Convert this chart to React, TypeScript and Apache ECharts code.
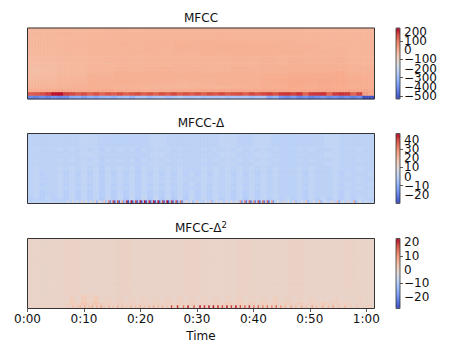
import React, { useEffect, useRef } from "react";
import * as echarts from "echarts";

const FONT = "DejaVu Sans";
const coolwarm = ["#3b4cc0", "#5977e3", "#7b9ff9", "#9ebeff", "#c0d4f5", "#dddcdc", "#f2cbb7", "#f7ac8e", "#ee8468", "#d65244", "#b40426"];

const timeTicks = [0, 10, 20, 30, 40, 50, 60];
const timeMax = 61.45;
const titles = ["MFCC", "MFCC-Δ", "MFCC-Δ{sup|2}"];

const mfccRange = [-533, 244];
const deltaRange = [-29.5, 47];
const delta2Range = [-28.5, 22.7];
const mfccTicks = [200, 100, 0, -100, -200, -300, -400, -500];
const deltaTicks = [40, 30, 20, 10, 0, -10, -20];
const delta2Ticks = [20, 10, 0, -10, -20];

// MFCC, coefficient 0 upward
const mfcc0 = [-430, -440, -410, -430, -400, -420, -410, -350, -340, -370, -330, -350, -320, -310, -330, -300, -290, -320, -280, -270, -300, -270, -260, -290, -270, -250, -280, -270, -260, -290, -270, -280, -260, -290, -270, -280, -270, -290, -280, -270, -350, -320, -390, -410, -380, -420, -400, -430, -410, -390, -420, -400, -430, -410, -440, -410, -525, -528];
const mfcc1 = [150, 160, 170, 190, 230, 235, 185, 175, 155, 170, 140, 165, 135, 160, 145, 170, 140, 155, 170, 145, 165, 140, 170, 150, 175, 145, 165, 150, 170, 145, 170, 155, 175, 150, 165, 170, 145, 175, 160, 175, 185, 165, 190, 195, 180, 200, 140, 190, 195, 200, 135, 190, 200, 195, 140, 185, 40, 20];
const mfcc2 = [10, 13, 15, 8, 12, 14, 6, 3, 0, 4, 8, 10, 12, 15, 16, 14, 18, 16, 14, 18, 20, 18, 22, 20];
const mfcc3 = [-12, -8, -4, 0, 4, 2, -4, -6, -10, -12, -14, -10, -8, -10, -6, -4, 4, 6, 10, 8, 12, 10, 6, 4];
const mfcc4 = [-16, -14, -8, -6, 4, 2, 4, 0, -4, -6, -8, -10, -6, -2, 0, -2, 6, 4, 14, 12, 16, 14, 8, 6];
const mfcc5 = [-22, -18, -12, -8, 0, 2, 4, 2, 0, -2, -4, -2, -4, -2, 0, 2, 8, 10, 14, 14, 16, 14, 10, 6];
const mfcc6 = [-26, -22, -16, -14, -2, -4, 0, 2, 2, 4, 0, 2, -2, 0, 0, 2, 4, 6, 10, 12, 12, 14, 8, 6];
const mfcc7 = [-28, -24, -20, -18, -10, -8, -2, -4, -2, 0, -4, -2, -6, -4, -2, -4, 0, 2, 4, 6, 8, 10, 2, 0];
const mfcc8 = [-28, -26, -20, -18, -12, -10, -6, -8, -4, -2, -6, -4, -6, -8, -2, -4, -2, 0, 2, 4, 4, 6, 0, -2];
const mfcc9 = [-26, -24, -18, -20, -12, -14, -10, -8, -8, -10, -6, -8, -10, -8, -6, -8, -4, -6, 0, -2, 2, 0, -4, -6];
const mfcc10 = [-24, -22, -20, -18, -14, -16, -12, -10, -8, -10, -12, -10, -8, -10, -6, -8, -4, -6, -2, -4, -4, -2, -6, -8];
const mfcc11 = [-22, -20, -16, -18, -14, -12, -12, -14, -10, -12, -8, -10, -8, -6, -4, -6, -4, -8, -4, -6, -4, -2, -8, -10];
const mfcc12 = [-20, -18, -16, -14, -12, -14, -10, -12, -8, -10, -6, -8, -4, -6, -2, -4, -4, -6, -4, -6, -6, -4, -8, -10];
const mfcc13 = [-18, -16, -14, -16, -10, -12, -8, -6, -6, -8, -4, -6, 0, -2, 2, 0, 0, -2, -2, -4, -4, -6, -8, -6];
const mfcc14 = [-18, -16, -12, -14, -10, -8, -8, -10, -4, -6, -2, -4, 2, 0, 2, 0, 0, -2, -4, -2, -6, -4, -8, -6];
const mfcc15 = [-16, -14, -14, -12, -10, -12, -6, -8, -6, -8, -2, -4, -2, 0, 0, -2, -2, -4, -4, -6, -6, -8, -8, -6];
const mfcc16 = [-16, -14, -14, -12, -12, -10, -8, -10, -6, -8, -6, -4, -4, -6, -4, -6, -6, -4, -6, -8, -8, -6, -8, -10];
const mfcc17 = [-16, -14, -14, -16, -10, -12, -10, -8, -8, -10, -8, -10, -8, -6, -8, -10, -8, -10, -8, -10, -10, -12, -10, -12];
const mfcc18 = [-14, -16, -12, -14, -12, -14, -10, -12, -10, -12, -8, -10, -8, -10, -10, -12, -10, -12, -10, -12, -12, -10, -12, -10];
const mfcc19 = [-14, -14, -12, -14, -12, -12, -12, -14, -12, -10, -10, -12, -10, -12, -10, -12, -12, -10, -10, -12, -12, -10, -12, -10];
const mfccRows = [mfcc0, mfcc1, mfcc2, mfcc3, mfcc4, mfcc5, mfcc6, mfcc7, mfcc8, mfcc9, mfcc10, mfcc11, mfcc12, mfcc13, mfcc14, mfcc15, mfcc16, mfcc17, mfcc18, mfcc19];

// Delta, 232 slices
const delta0 = [
  0, 0, 0, 1, 0, 0, 1, 0, 0, 0, 1, 0, 0, 0, 1, 0, 0, 1, 0, 0, 0, 1, 0, 0, 1, 0, 0,
  9, 0, 0, 11, 0, 0, 8, 0, 0, 14, 0, 0, 10, 0, 0, 12, 0, 0, 15, -8, 0, 13, 0, 0, 18,
  -6, 0, 30, -20, 0, 40, -26, 0, 38, -24, 0, 26, -14, 0, 42, -28, 0, 44, -27, 0, 40, -26, 0, 44, -28, 0, 46, -28, 0, 42, -27, 0, 45, -28, 0, 44, -26, 0, 40, -27, 0, 46, -28, 0, 42, -24, 0, 38, -22, 0, 34, -20,
  0, 0, 14, 0, 0, 10, -6, 0, 0, 18, 0, 0, 12, 0, 0, 0, 9, 0, 0, 16, -8, 0, 0, 11, 0, 0, 8, 0, 0, 0, 14, 0, 0, 10, 0, 0, 12, 0,
  0, 28, -16, 0, 32, -20, 0, 36, -24, 0, 30, -18, 0, 38, -24, 0, 34, -20, 0, 36, -22, 0, 26, -14, 0,
  0, 10, 0, 0, 0, 14, 0, 0, 8, 0, 0, 0, 16, -6, 0, 0, 0, 9, 0, 0, 18, -8, 0, 0, 0, 11, 0, 0, 0, 20, -8, 0, 0, 8, 0, 0, 0, 14, 0, 0, 0, 22, -10, 0, 0, 9, 0, 0, 16, 0, 0, 0, 24, -10, 0, 0, 10, 0, 0, 0, 6, 0, 0, 0, 3, 0, 0,
];
const delta1 = [-1, 0, -1, 1, -1, 0, -1, 1, -1, 1, -1, 1, -2, 2, -1, 2, -2, 2, -2, 3, -2, 3, -2, 2, -2, 2, -2, 2, -1, 2, -1, 2, -1, 1, -1, 2, -2, 2, -1, 2, -1, 1, -1, 1, -1, 1, -1, 2, -1, 1, -1, 1, -1, 1, -1, 1, 0, 0];
const deltaLow = [0, 1, -1, 0, 0, 1, -1, 1, -1, 1, -1, 1, -1, 1, -1, 1, -1, 1, -1, 1, -1, 1, -1, 1, -1, 1, -1, 1, -1, 1, -1, 1, 0, 1, -1, 1, -1, 1, -1, 1, 0, 1, 0, 0, 0, 1, -1, 1, 0, 0, 0, 1, -1, 1, 0, 0, 0, 1];
const deltaMid = [0, 1, 0, 0, 0, 1, 0, 1, 0, 1, 0, 1, -1, 1, 0, 1, 0, 1, -1, 1, 0, 1, 0, 1, 0, 1, 0, 0, 0, 1, 0, 1, 0, 1, 0, 1, 0, 1, 0, 1, 0, 1, 0, 0, 0, 1, 0, 1, 0, 0, 0, 1, 0, 0, 0, 1, 0, 0];
const deltaTop = [0, 0, 0, 1, 0, 0, 0, 1, 0, 0, 0, 1, 0, 1, 0, 0, 0, 1, 0, 0];
const deltaRows = [delta0, delta1, deltaLow, deltaLow, deltaMid, deltaLow, deltaMid, deltaMid, deltaLow, deltaMid, deltaMid, deltaTop, deltaMid, deltaTop, deltaTop, deltaMid, deltaTop, deltaTop, deltaTop, deltaTop];

// Delta squared, 232 slices
const accel0 = [
  0, 0, 1, 0, 0, 1, 0, 0, 0, 1, 0, 0, 1, 0, 0, 0, 1, 0, 0, 1, 0, 0, 0, 1, 0, 0, 0,
  3, 0, 0, 5, 0, 0, 4, 0, 6, 0, 0, 7, 0, 0, 5, 0, 8, 0, 0, 6, 0, 0, 9, 0, 3, 0, 0, 6, 0, 0, 4, 0, 0, 7, 0, 0, 5, 0, 0, 3, 0, 0, 6, 0, 0,
  5, 0, 0, 7, 0, 0, 4, 0, 0, 6, 0, 0, 8, 0, 0, 5, 0, 0, 7, 0, 0, 4, 0, 0,
  18, 2, 0, 0, 20, 2, 0, 0, 14, 0, 0, 21, 2, 0, 0, 16, 1, 0, 0, 22, 2, 0, 20, 2, 0, 21, 2, 0, 22, 2, 0, 20, 2, 0, 18, 2, 0, 21, 2, 0, 19, 2, 0, 22, 2, 0, 18, 1, 0, 16, 1, 0, 20, 2, 0, 14, 0, 0, 16, 1, 0, 12, 0, 0, 14, 0, 0, 12, 0, 0, 15, 0, 0, 10, 0, 0,
  6, 0, 0, 0, 8, 0, 0, 5, 0, 0, 0, 7, 0, 0, 4, 0, 0, 0, 9, 0, 0, 5, 0, 0, 0, 7, 0, 0, 0, 5, 0, 0, 8, 0, 0, 0, 4, 0, 0, 0, 6, 0, 0, 0, 3, 0, 0, 0, 4, 0, 0, 0, 2, 0, 0, 0, 3, 0, 0, 0, 0,
];
const accel1 = [0, 0, 0, 0.5, 0, 0, 0.5, 2, 1, 3, 1, 3, 1, 1, 0.5, 1, 0.5, 1, 0.5, 1, 0.5, 1, 0.5, 1.5, 0.5, 1, 0.5, 1.5, 0.5, 1, 0.5, 1.5, 0.5, 2, 0.5, 2, 0.5, 1.5, 0.5, 2, 0.5, 1.5, 0.5, 2, 0.5, 1.5, 0.5, 1, 0.5, 2, 0.5, 1.5, 0.5, 1, 0, 0.5, 0, 0];
const accelLow = [0, 0, 0, 0, 0, 0, 0, 1.5, 0, 2, 0.5, 2, 0, 0.5, 0, 0.5, 0, 0.5, 0, 0.5, 0, 0.5, 0, 0.5, 0, 1, 0, 0.5, 0, 0.5, 0, 0.5, 0, 0.5, 0, 1, 0, 0.5, 0, 0.5, 0, 1, 0, 0.5, 0, 0.5, 0, 0.5, 0, 0, 0, 0.5, 0, 0, 0, 0.5, 0, 0];
const accelTop = [0, 0, 0.3, 0, 0, 0.3, 0, 0, 0, 0.3, 0, 0, 0.3, 0, 0, 0.3, 0, 0, 0.3, 0];
const accelRows = [accel0, accel1, accelLow, accelLow, accelTop, accelTop, accelTop, accelTop, accelTop, accelTop, accelTop, accelTop, accelTop, accelTop, accelTop, accelTop, accelTop, accelTop, accelTop, accelTop];

const minus = (v: number) => String(v).replace("-", "−");
const pad = (s: number) => `${Math.floor(s / 60)}:${String(s % 60).padStart(2, "0")}`;

function cells(rows: number[][], columns: number) {
  const out: number[][] = [];
  rows.forEach((row, r) => {
    for (let c = 0; c < columns; c++) out.push([c, r, row[Math.floor((c * row.length) / columns)]]);
  });
  return out;
}

const PLOT_LEFT = 27.5;
const PLOT_WIDTH = 347;
const BAR_LEFT = 396;
const BAR_WIDTH = 4;
const panels = [
  { rows: mfccRows, columns: 116, range: mfccRange, ticks: mfccTicks, top: 28, height: 71, titleTop: 11.5 },
  { rows: deltaRows, columns: 232, range: deltaRange, ticks: deltaTicks, top: 133.5, height: 70, titleTop: 117 },
  { rows: accelRows, columns: 232, range: delta2Range, ticks: delta2Ticks, top: 238.5, height: 70, titleTop: 220.5 },
];

export default function App() {
  const ref = useRef<HTMLDivElement>(null);
  useEffect(() => {
    document.body.style.margin = "0";
    const chart = echarts.init(ref.current!, undefined, { renderer: "svg" });
    const grid: any[] = [];
    const xAxis: any[] = [];
    const yAxis: any[] = [];
    const series: any[] = [];
    const visualMap: any[] = [];
    const title: any[] = [];
    const textStyle = { color: "#111", fontFamily: FONT, fontSize: 12 };
    panels.forEach((p) => {
      grid.push({ show: true, z: 3, left: PLOT_LEFT, top: p.top, width: PLOT_WIDTH, height: p.height, borderColor: "#333", borderWidth: 1, backgroundColor: "transparent" });
      grid.push({ show: true, z: 6, left: BAR_LEFT, top: p.top, width: BAR_WIDTH, height: p.height, borderColor: "#333", borderWidth: 0.8, backgroundColor: "transparent" });
    });
    panels.forEach((p, i) => {
      const gridMain = i * 2;
      const gridBar = i * 2 + 1;
      const categoryX = xAxis.length;
      xAxis.push({ type: "category", gridIndex: gridMain, show: false, data: Array.from({ length: p.columns }, (_, c) => c) });
      const categoryY = yAxis.length;
      yAxis.push({ type: "category", gridIndex: gridMain, show: false, data: p.rows.map((_, r) => r) });
      if (i === 2) {
        xAxis.push({
          type: "value", gridIndex: gridMain, position: "bottom", min: 0, max: timeMax, interval: 10,
          name: "Time", nameLocation: "middle", nameGap: 21, nameTextStyle: textStyle,
          splitLine: { show: false }, axisLine: { show: false },
          axisTick: { show: true, length: 3.5, lineStyle: { color: "#333", width: 0.8 }, customValues: timeTicks },
          axisLabel: { ...textStyle, margin: 4, showMinLabel: true, showMaxLabel: true, customValues: timeTicks, formatter: (v: number) => pad(v) },
        });
      }
      xAxis.push({ type: "value", gridIndex: gridBar, show: false, min: 0, max: 1 });
      // Two overlaid axes: ECharts drops the neighbour of an end label that
      // touches it, and the reference keeps these crowded labels all visible.
      [0, 1].forEach((phase) => {
        const ticks = p.ticks.filter((_, k) => k % 2 === phase);
        yAxis.push({
          type: "value", gridIndex: gridBar, position: "right", min: p.range[0], max: p.range[1],
          splitLine: { show: false }, axisLine: { show: false },
          axisTick: { show: true, length: 3, lineStyle: { color: "#333", width: 0.8 }, customValues: ticks },
          axisLabel: { ...textStyle, margin: 4, showMinLabel: true, showMaxLabel: true, customValues: ticks, formatter: (v: number) => minus(v) },
        });
      });
      series.push({
        type: "heatmap", xAxisIndex: categoryX, yAxisIndex: categoryY, z: 2,
        data: cells(p.rows, p.columns), silent: true, progressive: 0, emphasis: { disabled: true },
      });
      visualMap.push({
        type: "continuous", seriesIndex: i, min: p.range[0], max: p.range[1], calculable: false, hoverLink: false,
        left: BAR_LEFT, top: p.top, itemWidth: BAR_WIDTH, itemHeight: p.height, padding: 0, text: null,
        inRange: { color: coolwarm }, textStyle: { fontSize: 0 }, z: 4,
      });
      title.push({
        text: titles[i], left: 201, top: p.titleTop, textAlign: "center", padding: 0,
        textStyle: { ...textStyle, fontWeight: "normal", rich: { sup: { fontFamily: FONT, fontSize: 8.5, color: "#111", padding: [0, 0, 6, 0] } } },
      });
    });
    chart.setOption({ animation: false, backgroundColor: "#fff", title, grid, xAxis, yAxis, visualMap, series });
    return () => chart.dispose();
  }, []);
  return <div ref={ref} style={{ width: 474, height: 355 }} />;
}
